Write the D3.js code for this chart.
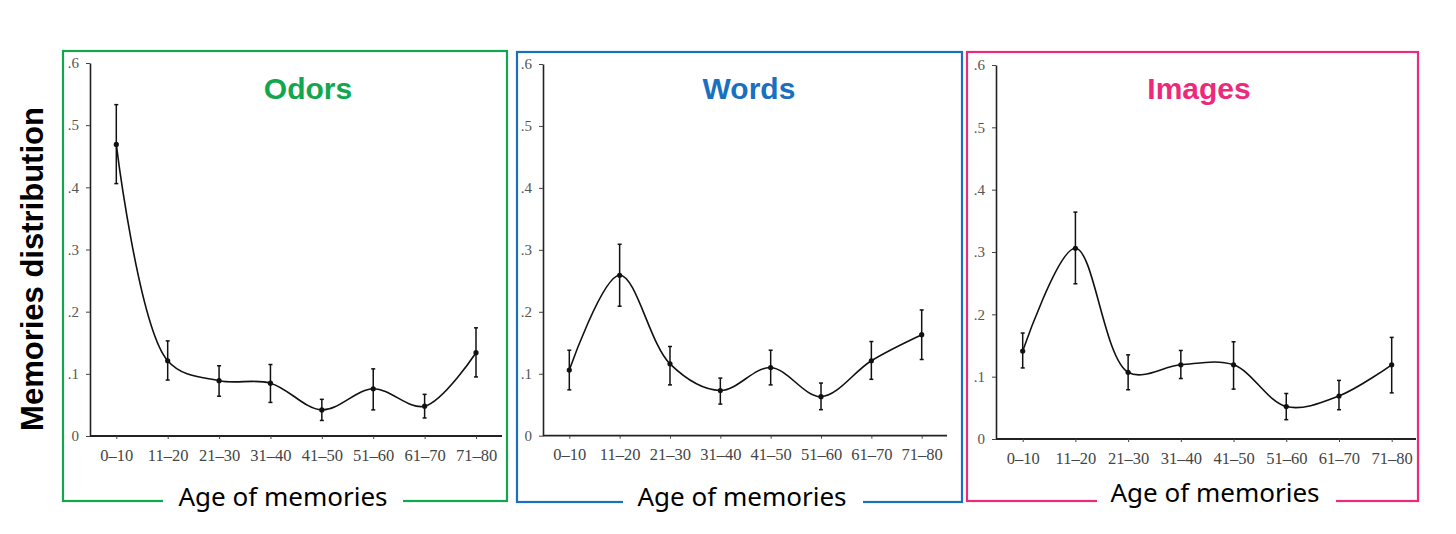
<!DOCTYPE html>
<html>
<head>
<meta charset="utf-8">
<script src="https://cdn.jsdelivr.net/npm/d3@7"></script>
<style>
    body { margin: 0; background: #fff; }
    svg { display: block; }
</style>
</head>
<body>
<div id="chart"></div>
<script>
// age groups on the x axis
var categories = ['0–10', '11–20', '21–30', '31–40', '41–50', '51–60', '61–70', '71–80']
var yTicks = [0, 0.1, 0.2, 0.3, 0.4, 0.5, 0.6]

var odorsMean = [0.469, 0.121, 0.089, 0.085, 0.042, 0.076, 0.048, 0.134]
var odorsLow = [0.406, 0.090, 0.064, 0.054, 0.025, 0.042, 0.029, 0.095]
var odorsHigh = [0.533, 0.153, 0.113, 0.115, 0.059, 0.108, 0.067, 0.174]

var wordsMean = [0.106, 0.259, 0.116, 0.073, 0.110, 0.063, 0.121, 0.163]
var wordsLow = [0.074, 0.209, 0.082, 0.051, 0.082, 0.042, 0.091, 0.123]
var wordsHigh = [0.138, 0.309, 0.144, 0.093, 0.138, 0.085, 0.152, 0.203]

var imagesMean = [0.141, 0.306, 0.107, 0.119, 0.119, 0.052, 0.069, 0.119]
var imagesLow = [0.114, 0.249, 0.079, 0.097, 0.080, 0.031, 0.047, 0.074]
var imagesHigh = [0.170, 0.364, 0.135, 0.142, 0.156, 0.073, 0.094, 0.163]

var titles = ['Odors', 'Words', 'Images']
var colors = ['#12a64f', '#1a70c0', '#ec2a7c']
var xTitle = 'Age of memories'
var yTitle = 'Memories distribution'

var W = 1456, H = 534

var svg = d3.select('#chart').append('svg').attr('width', W).attr('height', H)
svg.append('rect').attr('width', W).attr('height', H).attr('fill', '#fff')

// layout of each panel (box, axes, labels)
var panels = [
    {mean: odorsMean, low: odorsLow, high: odorsHigh,
        box: [63, 51, 507, 501], axisX: 90, axisEnd: 502, tick0: 116.3, tick7: 476, y0: 436, y6: 63,
        titleX: 308, ageX: 283, ageY: 506, gap: [163, 403]},
    {mean: wordsMean, low: wordsLow, high: wordsHigh,
        box: [517, 52, 962, 502], axisX: 543, axisEnd: 947, tick0: 569.3, tick7: 921.7, y0: 435.7, y6: 64,
        titleX: 749, ageX: 742, ageY: 506, gap: [623, 863]},
    {mean: imagesMean, low: imagesLow, high: imagesHigh,
        box: [967, 52, 1418, 501], axisX: 996, axisEnd: 1416, tick0: 1022.7, tick7: 1391.7, y0: 439, y6: 65,
        titleX: 1199, ageX: 1215, ageY: 502, gap: [1097, 1336]}
]

function yFormat(d) {
    if (d === 0) return '0'
    return d3.format('.1f')(d).replace(/^0/, '')
}

function drawPanel(p, i) {
    var g = svg.append('g')
    var color = colors[i]

    // frame
    g.append('rect')
        .attr('x', p.box[0]).attr('y', p.box[1])
        .attr('width', p.box[2] - p.box[0]).attr('height', p.box[3] - p.box[1])
        .attr('fill', 'none').attr('stroke', color).attr('stroke-width', 2.2)

    var x = d3.scalePoint().domain(categories).range([p.tick0, p.tick7])
    var y = d3.scaleLinear().domain([0, 0.6]).range([p.y0, p.y6])

    var yAxis = d3.axisLeft(y).tickValues(yTicks).tickFormat(yFormat).tickSize(4).tickSizeOuter(0).tickPadding(7)
    var ya = g.append('g').attr('transform', 'translate(' + p.axisX + ',0)').call(yAxis)
    ya.select('.domain').attr('stroke', '#222').attr('stroke-width', 1.6)
    ya.selectAll('.tick line').attr('stroke', '#444')
    ya.selectAll('text').attr('fill', '#555').style('font-family', '"Liberation Serif", serif').style('font-size', '15px')

    // x axis line is longer than the point range
    g.append('line')
        .attr('x1', p.axisX).attr('x2', p.axisEnd)
        .attr('y1', p.y0).attr('y2', p.y0)
        .attr('stroke', '#222').attr('stroke-width', 1.8)
    var xAxis = d3.axisBottom(x).tickSize(3).tickSizeOuter(0).tickPadding(10)
    var xa = g.append('g').attr('transform', 'translate(0,' + p.y0 + ')').call(xAxis)
    xa.select('.domain').remove()
    xa.selectAll('.tick line').attr('stroke', '#444')
    xa.selectAll('text').attr('fill', '#444').style('font-family', '"Liberation Serif", serif').style('font-size', '16.5px')

    var pts = categories.map(function (c, k) {
        return {c: c, m: p.mean[k], lo: p.low[k], hi: p.high[k]}
    })

    var line = d3.line()
        .x(function (d) { return x(d.c) })
        .y(function (d) { return y(d.m) })
        .curve(d3.curveCatmullRom.alpha(0.5))
    g.append('path').datum(pts)
        .attr('d', line).attr('fill', 'none').attr('stroke', '#111').attr('stroke-width', 1.6)

    // error bars
    var bars = g.selectAll('.err').data(pts).enter().append('g').attr('class', 'err')
    bars.append('line')
        .attr('x1', function (d) { return x(d.c) }).attr('x2', function (d) { return x(d.c) })
        .attr('y1', function (d) { return y(d.lo) }).attr('y2', function (d) { return y(d.hi) })
        .attr('stroke', '#111').attr('stroke-width', 1.5)
    bars.append('line')
        .attr('x1', function (d) { return x(d.c) - 2 }).attr('x2', function (d) { return x(d.c) + 2 })
        .attr('y1', function (d) { return y(d.lo) }).attr('y2', function (d) { return y(d.lo) })
        .attr('stroke', '#111').attr('stroke-width', 1.5)
    bars.append('line')
        .attr('x1', function (d) { return x(d.c) - 2 }).attr('x2', function (d) { return x(d.c) + 2 })
        .attr('y1', function (d) { return y(d.hi) }).attr('y2', function (d) { return y(d.hi) })
        .attr('stroke', '#111').attr('stroke-width', 1.5)
    bars.append('circle')
        .attr('cx', function (d) { return x(d.c) }).attr('cy', function (d) { return y(d.m) })
        .attr('r', 2.6).attr('fill', '#111')

    // title
    g.append('text')
        .attr('x', p.titleX).attr('y', 99)
        .attr('text-anchor', 'middle')
        .attr('fill', color)
        .style('font-family', '"Liberation Sans", Arial, sans-serif')
        .style('font-weight', 'bold').style('font-size', '30px')
        .text(titles[i])

    // gap in the bottom border for the x title
    g.append('rect')
        .attr('x', p.gap[0]).attr('y', p.box[3] - 3)
        .attr('width', p.gap[1] - p.gap[0]).attr('height', 6)
        .attr('fill', '#fff')
    g.append('text')
        .attr('x', p.ageX).attr('y', p.ageY)
        .attr('text-anchor', 'middle')
        .attr('fill', '#000')
        .style('font-family', '"Noto Sans", sans-serif')
        .style('font-size', '26px')
        .text(xTitle)
}

panels.forEach(drawPanel)

svg.append('text')
    .attr('transform', 'translate(43,269) rotate(-90)')
    .attr('text-anchor', 'middle')
    .attr('fill', '#000')
    .style('font-family', '"Liberation Sans", Arial, sans-serif')
    .style('font-weight', 'bold').style('font-size', '31px')
    .text(yTitle)
</script>
</body>
</html>
